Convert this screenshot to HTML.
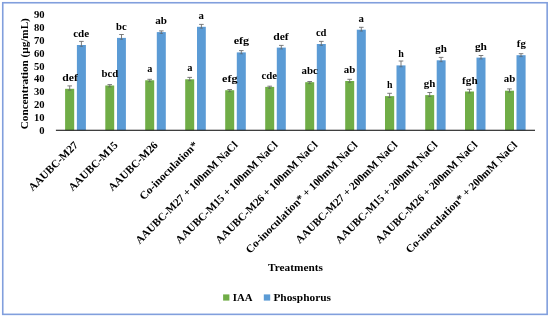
<!DOCTYPE html>
<html><head><meta charset="utf-8"><title>Chart</title>
<style>
html,body{margin:0;padding:0;background:#fff;}
svg{display:block}
text{font-family:"Liberation Serif","DejaVu Serif",serif;font-weight:bold;fill:#000;}
</style></head><body>
<svg width="550" height="317" viewBox="0 0 550 317">
<rect x="0" y="0" width="550" height="317" fill="#fff"/>
<rect x="2.75" y="2.75" width="544.4" height="311.6" fill="none" stroke="#819fdd" stroke-width="1.6"/>
<rect x="65.1" y="88.80" width="9.1" height="41.45" fill="#70ad47"/>
<path d="M69.7 85.9V90.2M67.4 85.9H72.0" stroke="#6e6e6e" stroke-width="0.9" fill="none"/>
<path d="M68.0 90.2H71.4" stroke="#555" stroke-opacity="0.55" stroke-width="0.9" fill="none"/>
<rect x="76.9" y="45.00" width="9.0" height="85.25" fill="#5b9bd5"/>
<path d="M81.4 41.4V46.4M79.1 41.4H83.7" stroke="#6e6e6e" stroke-width="0.9" fill="none"/>
<path d="M79.7 46.4H83.1" stroke="#555" stroke-opacity="0.55" stroke-width="0.9" fill="none"/>
<rect x="105.3" y="85.50" width="8.9" height="44.75" fill="#70ad47"/>
<path d="M109.8 84.6V86.9M107.5 84.6H112.0" stroke="#6e6e6e" stroke-width="0.9" fill="none"/>
<path d="M108.0 86.9H111.5" stroke="#555" stroke-opacity="0.55" stroke-width="0.9" fill="none"/>
<rect x="117.0" y="37.90" width="8.9" height="92.35" fill="#5b9bd5"/>
<path d="M121.5 34.5V39.3M119.2 34.5H123.8" stroke="#6e6e6e" stroke-width="0.9" fill="none"/>
<path d="M119.8 39.3H123.2" stroke="#555" stroke-opacity="0.55" stroke-width="0.9" fill="none"/>
<rect x="145.2" y="80.30" width="9.0" height="49.95" fill="#70ad47"/>
<path d="M149.7 79.3V81.7M147.4 79.3H152.0" stroke="#6e6e6e" stroke-width="0.9" fill="none"/>
<path d="M148.0 81.7H151.4" stroke="#555" stroke-opacity="0.55" stroke-width="0.9" fill="none"/>
<rect x="156.8" y="32.10" width="9.0" height="98.15" fill="#5b9bd5"/>
<path d="M161.3 30.9V33.5M159.0 30.9H163.6" stroke="#6e6e6e" stroke-width="0.9" fill="none"/>
<path d="M159.6 33.5H163.0" stroke="#555" stroke-opacity="0.55" stroke-width="0.9" fill="none"/>
<rect x="185.2" y="79.30" width="9.0" height="50.95" fill="#70ad47"/>
<path d="M189.7 77.4V80.7M187.4 77.4H192.0" stroke="#6e6e6e" stroke-width="0.9" fill="none"/>
<path d="M188.0 80.7H191.4" stroke="#555" stroke-opacity="0.55" stroke-width="0.9" fill="none"/>
<rect x="197.0" y="26.80" width="8.8" height="103.45" fill="#5b9bd5"/>
<path d="M201.4 24.4V28.2M199.1 24.4H203.7" stroke="#6e6e6e" stroke-width="0.9" fill="none"/>
<path d="M199.7 28.2H203.1" stroke="#555" stroke-opacity="0.55" stroke-width="0.9" fill="none"/>
<rect x="225.2" y="90.25" width="9.0" height="40.00" fill="#70ad47"/>
<path d="M229.7 89.5V91.7M227.4 89.5H232.0" stroke="#6e6e6e" stroke-width="0.9" fill="none"/>
<path d="M228.0 91.7H231.4" stroke="#555" stroke-opacity="0.55" stroke-width="0.9" fill="none"/>
<rect x="236.8" y="52.40" width="9.0" height="77.85" fill="#5b9bd5"/>
<path d="M241.3 50.6V53.8M239.0 50.6H243.6" stroke="#6e6e6e" stroke-width="0.9" fill="none"/>
<path d="M239.6 53.8H243.0" stroke="#555" stroke-opacity="0.55" stroke-width="0.9" fill="none"/>
<rect x="265.2" y="86.90" width="9.0" height="43.35" fill="#70ad47"/>
<path d="M269.7 86.2V88.3M267.4 86.2H272.0" stroke="#6e6e6e" stroke-width="0.9" fill="none"/>
<path d="M268.0 88.3H271.4" stroke="#555" stroke-opacity="0.55" stroke-width="0.9" fill="none"/>
<rect x="276.8" y="47.60" width="9.0" height="82.65" fill="#5b9bd5"/>
<path d="M281.3 45.4V49.0M279.0 45.4H283.6" stroke="#6e6e6e" stroke-width="0.9" fill="none"/>
<path d="M279.6 49.0H283.0" stroke="#555" stroke-opacity="0.55" stroke-width="0.9" fill="none"/>
<rect x="305.2" y="82.20" width="9.0" height="48.05" fill="#70ad47"/>
<path d="M309.7 81.5V83.6M307.4 81.5H312.0" stroke="#6e6e6e" stroke-width="0.9" fill="none"/>
<path d="M308.0 83.6H311.4" stroke="#555" stroke-opacity="0.55" stroke-width="0.9" fill="none"/>
<rect x="316.8" y="44.00" width="9.0" height="86.25" fill="#5b9bd5"/>
<path d="M321.3 41.4V45.4M319.0 41.4H323.6" stroke="#6e6e6e" stroke-width="0.9" fill="none"/>
<path d="M319.6 45.4H323.0" stroke="#555" stroke-opacity="0.55" stroke-width="0.9" fill="none"/>
<rect x="345.2" y="81.00" width="9.0" height="49.25" fill="#70ad47"/>
<path d="M349.7 79.3V82.4M347.4 79.3H352.0" stroke="#6e6e6e" stroke-width="0.9" fill="none"/>
<path d="M348.0 82.4H351.4" stroke="#555" stroke-opacity="0.55" stroke-width="0.9" fill="none"/>
<rect x="356.8" y="29.70" width="9.0" height="100.55" fill="#5b9bd5"/>
<path d="M361.3 27.3V31.1M359.0 27.3H363.6" stroke="#6e6e6e" stroke-width="0.9" fill="none"/>
<path d="M359.6 31.1H363.0" stroke="#555" stroke-opacity="0.55" stroke-width="0.9" fill="none"/>
<rect x="385.0" y="96.10" width="9.2" height="34.15" fill="#70ad47"/>
<path d="M389.6 93.3V97.5M387.3 93.3H391.9" stroke="#6e6e6e" stroke-width="0.9" fill="none"/>
<path d="M387.9 97.5H391.3" stroke="#555" stroke-opacity="0.55" stroke-width="0.9" fill="none"/>
<rect x="396.5" y="65.40" width="9.0" height="64.85" fill="#5b9bd5"/>
<path d="M401.0 61.0V66.8M398.7 61.0H403.3" stroke="#6e6e6e" stroke-width="0.9" fill="none"/>
<path d="M399.3 66.8H402.7" stroke="#555" stroke-opacity="0.55" stroke-width="0.9" fill="none"/>
<rect x="425.2" y="95.10" width="9.0" height="35.15" fill="#70ad47"/>
<path d="M429.7 92.5V96.5M427.4 92.5H432.0" stroke="#6e6e6e" stroke-width="0.9" fill="none"/>
<path d="M428.0 96.5H431.4" stroke="#555" stroke-opacity="0.55" stroke-width="0.9" fill="none"/>
<rect x="436.7" y="60.30" width="8.9" height="69.95" fill="#5b9bd5"/>
<path d="M441.1 57.4V61.7M438.8 57.4H443.4" stroke="#6e6e6e" stroke-width="0.9" fill="none"/>
<path d="M439.4 61.7H442.8" stroke="#555" stroke-opacity="0.55" stroke-width="0.9" fill="none"/>
<rect x="465.0" y="91.50" width="9.0" height="38.75" fill="#70ad47"/>
<path d="M469.5 89.3V92.9M467.2 89.3H471.8" stroke="#6e6e6e" stroke-width="0.9" fill="none"/>
<path d="M467.8 92.9H471.2" stroke="#555" stroke-opacity="0.55" stroke-width="0.9" fill="none"/>
<rect x="476.5" y="57.60" width="9.0" height="72.65" fill="#5b9bd5"/>
<path d="M481.0 55.5V59.0M478.7 55.5H483.3" stroke="#6e6e6e" stroke-width="0.9" fill="none"/>
<path d="M479.3 59.0H482.7" stroke="#555" stroke-opacity="0.55" stroke-width="0.9" fill="none"/>
<rect x="505.0" y="90.70" width="9.0" height="39.55" fill="#70ad47"/>
<path d="M509.5 88.9V92.1M507.2 88.9H511.8" stroke="#6e6e6e" stroke-width="0.9" fill="none"/>
<path d="M507.8 92.1H511.2" stroke="#555" stroke-opacity="0.55" stroke-width="0.9" fill="none"/>
<rect x="516.5" y="55.20" width="9.1" height="75.05" fill="#5b9bd5"/>
<path d="M521.0 53.7V56.6M518.8 53.7H523.3" stroke="#6e6e6e" stroke-width="0.9" fill="none"/>
<path d="M519.3 56.6H522.8" stroke="#555" stroke-opacity="0.55" stroke-width="0.9" fill="none"/>
<text x="62.2" y="81.1" font-size="11" textLength="15.6" lengthAdjust="spacingAndGlyphs">def</text>
<text x="73.2" y="36.9" font-size="11" textLength="16.0" lengthAdjust="spacingAndGlyphs">cde</text>
<text x="101.5" y="77.4" font-size="11" textLength="16.8" lengthAdjust="spacingAndGlyphs">bcd</text>
<text x="116.1" y="29.9" font-size="11" textLength="10.7" lengthAdjust="spacingAndGlyphs">bc</text>
<text x="147.2" y="71.9" font-size="11" textLength="5.1" lengthAdjust="spacingAndGlyphs">a</text>
<text x="155.3" y="24.3" font-size="11" textLength="11.7" lengthAdjust="spacingAndGlyphs">ab</text>
<text x="187.2" y="70.7" font-size="11" textLength="5.2" lengthAdjust="spacingAndGlyphs">a</text>
<text x="198.5" y="19.0" font-size="11" textLength="5.4" lengthAdjust="spacingAndGlyphs">a</text>
<text x="222.1" y="82.3" font-size="11" textLength="15.5" lengthAdjust="spacingAndGlyphs">efg</text>
<text x="233.7" y="44.3" font-size="11" textLength="15.5" lengthAdjust="spacingAndGlyphs">efg</text>
<text x="261.5" y="78.8" font-size="11" textLength="15.6" lengthAdjust="spacingAndGlyphs">cde</text>
<text x="273.2" y="39.5" font-size="11" textLength="15.5" lengthAdjust="spacingAndGlyphs">def</text>
<text x="301.5" y="74.4" font-size="11" textLength="16.3" lengthAdjust="spacingAndGlyphs">abc</text>
<text x="315.9" y="35.8" font-size="11" textLength="10.6" lengthAdjust="spacingAndGlyphs">cd</text>
<text x="343.7" y="72.9" font-size="11" textLength="11.5" lengthAdjust="spacingAndGlyphs">ab</text>
<text x="358.5" y="21.7" font-size="11" textLength="5.4" lengthAdjust="spacingAndGlyphs">a</text>
<text x="386.9" y="87.7" font-size="11" textLength="5.5" lengthAdjust="spacingAndGlyphs">h</text>
<text x="398.3" y="57.3" font-size="11" textLength="5.6" lengthAdjust="spacingAndGlyphs">h</text>
<text x="423.7" y="86.6" font-size="11" textLength="11.6" lengthAdjust="spacingAndGlyphs">gh</text>
<text x="435.2" y="52.2" font-size="11" textLength="11.6" lengthAdjust="spacingAndGlyphs">gh</text>
<text x="462.1" y="83.7" font-size="11" textLength="15.5" lengthAdjust="spacingAndGlyphs">fgh</text>
<text x="474.9" y="49.8" font-size="11" textLength="12.1" lengthAdjust="spacingAndGlyphs">gh</text>
<text x="503.7" y="82.1" font-size="11" textLength="11.5" lengthAdjust="spacingAndGlyphs">ab</text>
<text x="516.8" y="46.6" font-size="11" textLength="9.0" lengthAdjust="spacingAndGlyphs">fg</text>
<rect x="55.9" y="129.75" width="479.1" height="1.05" fill="#111"/>
<text x="44.5" y="133.8" font-size="10.6" text-anchor="end">0</text>
<text x="44.5" y="120.9" font-size="10.6" text-anchor="end">10</text>
<text x="44.5" y="108.1" font-size="10.6" text-anchor="end">20</text>
<text x="44.5" y="95.3" font-size="10.6" text-anchor="end">30</text>
<text x="44.5" y="82.4" font-size="10.6" text-anchor="end">40</text>
<text x="44.5" y="69.6" font-size="10.6" text-anchor="end">50</text>
<text x="44.5" y="56.8" font-size="10.6" text-anchor="end">60</text>
<text x="44.5" y="43.9" font-size="10.6" text-anchor="end">70</text>
<text x="44.5" y="31.1" font-size="10.6" text-anchor="end">80</text>
<text x="44.5" y="18.3" font-size="10.6" text-anchor="end">90</text>
<text transform="translate(27.5,129.2) rotate(-90)" font-size="11" textLength="111" lengthAdjust="spacingAndGlyphs">Concentration (µg/mL)</text>
<text transform="translate(78.60,145.70) rotate(-45)" font-size="11" text-anchor="end" textLength="64.9" lengthAdjust="spacingAndGlyphs">AAUBC-M27</text>
<text transform="translate(118.55,145.70) rotate(-45)" font-size="11" text-anchor="end" textLength="64.9" lengthAdjust="spacingAndGlyphs">AAUBC-M15</text>
<text transform="translate(158.50,145.70) rotate(-45)" font-size="11" text-anchor="end" textLength="64.9" lengthAdjust="spacingAndGlyphs">AAUBC-M26</text>
<text transform="translate(198.45,145.70) rotate(-45)" font-size="11" text-anchor="end" textLength="77.5" lengthAdjust="spacingAndGlyphs">Co-inoculation*</text>
<text transform="translate(238.40,145.70) rotate(-45)" font-size="11" text-anchor="end" textLength="139.6" lengthAdjust="spacingAndGlyphs">AAUBC-M27 + 100mM NaCl</text>
<text transform="translate(278.35,145.70) rotate(-45)" font-size="11" text-anchor="end" textLength="139.3" lengthAdjust="spacingAndGlyphs">AAUBC-M15 + 100mM NaCl</text>
<text transform="translate(318.30,145.70) rotate(-45)" font-size="11" text-anchor="end" textLength="139.4" lengthAdjust="spacingAndGlyphs">AAUBC-M26 + 100mM NaCl</text>
<text transform="translate(250.06,253.89) rotate(-45)" font-size="11"><tspan textLength="77.5" lengthAdjust="spacingAndGlyphs">Co-inoculation*</tspan><tspan textLength="75.5" lengthAdjust="spacingAndGlyphs"> + 100mM NaCl</tspan></text>
<text transform="translate(398.20,145.70) rotate(-45)" font-size="11" text-anchor="end" textLength="139.1" lengthAdjust="spacingAndGlyphs">AAUBC-M27 + 200mM NaCl</text>
<text transform="translate(438.15,145.70) rotate(-45)" font-size="11" text-anchor="end" textLength="139.3" lengthAdjust="spacingAndGlyphs">AAUBC-M15 + 200mM NaCl</text>
<text transform="translate(478.10,145.70) rotate(-45)" font-size="11" text-anchor="end" textLength="139.0" lengthAdjust="spacingAndGlyphs">AAUBC-M26 + 200mM NaCl</text>
<text transform="translate(409.93,253.82) rotate(-45)" font-size="11"><tspan textLength="77.5" lengthAdjust="spacingAndGlyphs">Co-inoculation*</tspan><tspan textLength="75.4" lengthAdjust="spacingAndGlyphs"> + 200mM NaCl</tspan></text>
<text x="268.1" y="270.6" font-size="11" textLength="54.8" lengthAdjust="spacingAndGlyphs">Treatments</text>
<rect x="223.1" y="294.4" width="6.3" height="6.2" fill="#70ad47"/>
<text x="232.7" y="300.6" font-size="11" textLength="19.8" lengthAdjust="spacingAndGlyphs">IAA</text>
<rect x="263.8" y="294.4" width="6.4" height="6.2" fill="#5b9bd5"/>
<text x="273.4" y="300.6" font-size="11" textLength="57.6" lengthAdjust="spacingAndGlyphs">Phosphorus</text>
</svg></body></html>
